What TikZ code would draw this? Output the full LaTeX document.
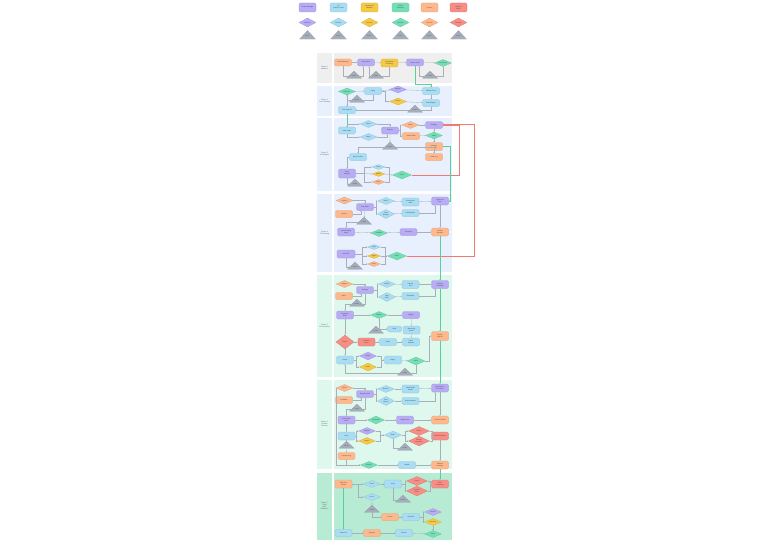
\documentclass[tikz,border=0pt]{standalone}
\usepackage{fontspec}
\setmainfont{Liberation Sans}
\usetikzlibrary{shapes.geometric,arrows.meta}

\definecolor{pmcol}{HTML}{B8ADF5}
\definecolor{aicol}{HTML}{A8DDF3}
\definecolor{qacol}{HTML}{F6C945}
\definecolor{devcol}{HTML}{74DFB5}
\definecolor{vencol}{HTML}{FFB88C}
\definecolor{extcol}{HTML}{F78D85}
\definecolor{revcol}{HTML}{A6ADBA}
\definecolor{lanegray}{HTML}{EFEFEF}
\definecolor{laneblue}{HTML}{E7F0FC}
\definecolor{lanemint}{HTML}{DFF8EE}
\definecolor{lanedeep}{HTML}{B8EBD4}
\definecolor{ink}{HTML}{3A3F4A}
\definecolor{wire}{HTML}{A9AFB8}
\definecolor{flowgreen}{HTML}{5BCF98}
\definecolor{failred}{HTML}{EE7A72}

\begin{document}
\begin{tikzpicture}[x=1pt, y=-1pt,
        >={Stealth[length=1.3pt, width=1.1pt]},
        every node/.style={font=\fontsize{1.6}{1.9}\selectfont, text=ink, align=center},
        task/.style={rectangle, rounded corners=1.3pt, line width=0.2pt, minimum width=17pt, minimum height=7pt, inner sep=0.3pt},
        task_pm/.style={task, fill=pmcol, draw=pmcol!85!black},
        task_ai/.style={task, fill=aicol, draw=aicol!85!black},
        task_qa/.style={task, fill=qacol, draw=qacol!85!black},
        task_dev/.style={task, fill=devcol, draw=devcol!85!black},
        task_ven/.style={task, fill=vencol, draw=vencol!85!black},
        task_ext/.style={task, fill=extcol, draw=extcol!85!black},
        dec/.style={diamond, aspect=2.5, line width=0.2pt, minimum width=17pt, minimum height=7pt, inner sep=0.2pt},
        dec_pm/.style={dec, fill=pmcol, draw=pmcol!85!black},
        dec_ai/.style={dec, fill=aicol, draw=aicol!85!black},
        dec_qa/.style={dec, fill=qacol, draw=qacol!85!black},
        dec_dev/.style={dec, fill=devcol, draw=devcol!85!black},
        dec_ven/.style={dec, fill=vencol, draw=vencol!85!black},
        dec_ext/.style={dec, fill=extcol, draw=extcol!85!black},
        small/.style={minimum width=13pt, minimum height=5pt},
        review/.style={isosceles triangle, isosceles triangle stretches, shape border rotate=90, minimum width=15pt, minimum height=7pt, inner sep=0pt, fill=revcol, draw=revcol!85!black, line width=0.2pt, font=\fontsize{1.3}{1.5}\selectfont},
        legend_item/.style={minimum width=17pt, minimum height=9pt},
        link/.style={draw=wire, line width=0.3pt},
        flow/.style={draw=flowgreen, line width=0.8pt, ->},
        fail/.style={draw=failred, line width=0.7pt, ->},
        lane_label/.style={font=\fontsize{1.8}{2.2}\selectfont, text=ink!80}
    ]
        \useasboundingbox (0,0) rectangle (768,543);

        % Legend
        \node[task_pm, legend_item] (leg_pm) at (307.5,7.5) {Project Manager};
        \node[task_ai, legend_item] (leg_ai) at (338.5,7.5) {AI /\\Analysis Tools};
        \node[task_qa, legend_item] (leg_qa) at (369.5,7.5) {Compliance\\Manager};
        \node[task_dev, legend_item] (leg_dev) at (400.5,7.5) {Senior\\Developer};
        \node[task_ven, legend_item] (leg_ven) at (429.5,7.5) {Vendor};
        \node[task_ext, legend_item] (leg_ext) at (458.5,7.5) {External\\Client};
        \node[dec_pm, legend_item] (leg_dec1) at (307.5,22.5) {Decision};
        \node[dec_ai, legend_item] (leg_dec2) at (338.5,22.5) {Decision};
        \node[dec_qa, legend_item] (leg_dec3) at (369.5,22.5) {Decision};
        \node[dec_dev, legend_item] (leg_dec4) at (400.5,22.5) {Decision};
        \node[dec_ven, legend_item] (leg_dec5) at (429.5,22.5) {Decision};
        \node[dec_ext, legend_item] (leg_dec6) at (458.5,22.5) {Decision};
        \node[review, minimum width=16pt, minimum height=8.5pt] (leg_rev1) at (307.5,36.5) {Review};
        \node[review, minimum width=16pt, minimum height=8.5pt] (leg_rev2) at (338.5,36.5) {Review};
        \node[review, minimum width=16pt, minimum height=8.5pt] (leg_rev3) at (369.5,36.5) {Review};
        \node[review, minimum width=16pt, minimum height=8.5pt] (leg_rev4) at (400.5,36.5) {Review};
        \node[review, minimum width=16pt, minimum height=8.5pt] (leg_rev5) at (429.5,36.5) {Review};
        \node[review, minimum width=16pt, minimum height=8.5pt] (leg_rev6) at (458.5,36.5) {Review};

        % Lanes
        \fill[lanegray] (317,53) rectangle (332,83);   \fill[lanegray] (334,53) rectangle (452,83);
        \fill[laneblue] (317,86) rectangle (332,116);  \fill[laneblue] (334,86) rectangle (452,116);
        \fill[laneblue] (317,118) rectangle (332,191); \fill[laneblue] (334,118) rectangle (452,191);
        \fill[laneblue] (317,194) rectangle (332,272); \fill[laneblue] (334,194) rectangle (452,272);
        \fill[lanemint] (317,275) rectangle (332,377); \fill[lanemint] (334,275) rectangle (452,377);
        \fill[lanemint] (317,380) rectangle (332,469); \fill[lanemint] (334,380) rectangle (452,469);
        \fill[lanedeep] (317,473) rectangle (332,540); \fill[lanedeep] (334,473) rectangle (452,540);
        \node[lane_label] (lane1_label) at (324.5,68) {Phase 1\\Initiation};
        \node[lane_label] (lane2_label) at (324.5,101) {Phase 2\\Tool Planning};
        \node[lane_label] (lane3_label) at (324.5,154) {Phase 3\\AI Analysis};
        \node[lane_label] (lane4_label) at (324.5,233) {Phase 4\\AI Planning};
        \node[lane_label] (lane5_label) at (324.5,326) {Phase 5\\AI Execution};
        \node[lane_label] (lane6_label) at (324.5,424) {Phase 6\\Review\\Process};
        \node[lane_label] (lane7_label) at (324.5,506) {Phase 7\\Final\\Gate\\Validation};

        % Phase 1: kickoff to charter
        \node[task_ven] (p1_kickoff) at (343,62.5) {Kickoff Meeting};
        \node[task_pm] (p1_scope) at (366,62.5) {Scope Brief};
        \node[task_qa, minimum height=8pt] (p1_comp) at (389.5,63) {Compliance\\Screening};
        \node[task_pm] (p1_charter) at (415,62.5) {Charter Draft};
        \node[dec_dev] (p1_go) at (443,63) {Go / No-Go};
        \node[review] (p1_rev1) at (354,76) {Review};
        \node[review] (p1_rev2) at (376,76) {Review};
        \node[review] (p1_rev3) at (430,76) {Review};
        \draw[link, ->] (p1_kickoff) -- (p1_scope);
        \draw[link, ->] (p1_scope) -- (p1_comp);
        \draw[link, ->] (p1_comp) -- (p1_charter);
        \draw[link, ->] (p1_charter) -- (p1_go);
        \draw[link] (p1_kickoff) |- (p1_rev1);
        \draw[link, ->] (p1_rev1) -| ([xshift=-3pt]p1_scope.south);
        \draw[link] (p1_comp) |- (p1_rev2);
        \draw[link, ->] (p1_rev2) -| ([xshift=3pt]p1_scope.south);
        \draw[link] (p1_go) |- (p1_rev3);
        \draw[link, ->] (p1_rev3) -| ([xshift=4pt]p1_charter.south);

        % Phase 2: tool planning
        \node[dec_dev] (p2_ok) at (347,91.5) {Tools OK?};
        \node[task_ai] (p2_setup) at (373,91) {Setup};
        \node[dec_pm] (p2_budget) at (398,89.5) {Budget?};
        \node[dec_qa] (p2_policy) at (398,101.5) {Policy?};
        \node[task_ai] (p2_val) at (431,91) {Validate Tools};
        \node[task_ai] (p2_risk) at (431,103) {Risk Register};
        \node[review] (p2_rev1) at (357,100) {Review};
        \node[review] (p2_rev2) at (415,110) {Review};
        \node[task_ai] (p2_plan) at (347,110) {Plan Sign-off};
        \draw[flow] (p1_charter.south) -- (415,84) -| (p2_val.north);
        \draw[link, ->] (p2_ok) -- (p2_setup);
        \draw[link, ->] (p2_setup) -- (p2_budget);
        \draw[link, ->] (p2_setup.east) -- (385,91) |- (p2_policy.west);
        \draw[link, ->] (p2_budget) -- (p2_val);
        \draw[link, ->] (p2_policy) -- (p2_risk);
        \draw[link, ->] (p2_val) -- (p2_risk);
        \draw[link] (p2_setup) |- (p2_rev1);
        \draw[link, ->] (p2_rev1) -| (p2_ok);
        \draw[link, ->] (p2_ok) -- (p2_plan);
        \draw[link] (p2_risk) |- (p2_rev2);
        \draw[link, ->] (p2_rev2) -- (p2_plan);

        % Phase 3: analysis
        \node[task_ai] (p3_intake) at (347,130.5) {Data Intake};
        \node[dec_ai] (p3_clean) at (368.5,124) {Clean?};
        \node[dec_ai] (p3_gaps) at (368.5,137) {Gaps?};
        \node[task_pm] (p3_model) at (390,130.5) {Analysis};
        \node[dec_ven] (p3_input) at (410.5,125) {Input?};
        \node[task_ven] (p3_vendor) at (411,136) {Vendor Data};
        \node[task_pm] (p3_report) at (434,125) {Findings};
        \node[dec_dev] (p3_valid) at (434,135.5) {Valid?};
        \node[task_ven, minimum height=8pt] (p3_pack) at (434,146.5) {Package\\Results};
        \node[review] (p3_rev1) at (390,147) {Review};
        \node[task_ai] (p3_notes) at (358,157) {Notes Archive};
        \node[task_ven] (p3_log) at (434,157) {Issue Log};
        \node[task_pm, minimum height=9pt] (p3_deep) at (347,173.5) {Deep\\Analysis};
        \node[dec_ai, small] (p3_bias) at (378.5,167) {Bias?};
        \node[dec_qa, small] (p3_audit) at (378.5,174) {Audit?};
        \node[dec_ven, small] (p3_cost) at (378.5,182) {Cost?};
        \node[dec_dev, minimum width=19pt, minimum height=8pt] (p3_pass) at (402,175) {Pass?};
        \node[review] (p3_rev2) at (355,184) {Review};
        \draw[flow] (p2_plan) -- (p3_intake);
        \draw[link, ->] (p3_intake.north) |- (p3_clean.west);
        \draw[link, ->] (p3_intake.south) |- (p3_gaps.west);
        \draw[link, ->] (p3_clean.east) -| (p3_model.north);
        \draw[link, ->] (p3_gaps.east) -| ([xshift=-3pt]p3_model.south);
        \draw[link, ->] (p3_model.east) -- (400,130.5) |- (p3_input.west);
        \draw[link, ->] (400,130.5) |- (p3_vendor.west);
        \draw[link, ->] (p3_input) -- (p3_report);
        \draw[link, ->] (p3_report) -- (p3_valid);
        \draw[link, ->] (p3_vendor) -- (p3_valid);
        \draw[link, ->] (p3_valid) -- (p3_pack);
        \draw[link, ->] (p3_model) -- (p3_rev1);
        \draw[link, ->] (p3_rev1) -| (p3_notes.north);
        \draw[link, ->] (p3_rev1) -| (p3_log.north);
        \draw[link, ->] (p3_notes.west) -| (p3_deep.north);
        \draw[link, ->] (p3_deep.east) -- (364,173.5) |- (p3_bias.west);
        \draw[link, ->] (364,173.5) -- (p3_audit.west);
        \draw[link, ->] (364,173.5) |- (p3_cost.west);
        \draw[link] (p3_bias.east) -| (389,175);
        \draw[link] (p3_cost.east) -| (389,175);
        \draw[link, ->] (p3_audit.east) -- (p3_pass.west);
        \draw[link, ->] (p3_deep.south) |- (p3_rev2.west);
        \draw[fail] (p3_pass.east) -- (459,175) |- (p3_report.east);

        % Phase 4: planning
        \node[dec_ven] (p4_vendor) at (344.5,200.5) {Vendor?};
        \node[task_ven] (p4_quote) at (344,214) {Quotes};
        \node[task_pm] (p4_plan) at (365,207) {Plan Build};
        \node[dec_ai] (p4_scale) at (386,201) {Scale?};
        \node[dec_ai, minimum height=9pt] (p4_ready) at (386,214) {Data\\Ready?};
        \node[task_ai, minimum height=8pt] (p4_arch) at (410.5,202) {Architecture\\Draft};
        \node[task_ai] (p4_data) at (410.5,213) {Data Pipeline};
        \node[task_pm, minimum height=8pt] (p4_gate) at (440,201) {Approved\\Plan};
        \node[review] (p4_rev1) at (364,222) {Review};
        \node[task_pm, minimum height=8pt] (p4_sprint) at (346,232) {Sprint Backlog\\Setup};
        \node[dec_dev] (p4_feasible) at (379,233) {Feasible?};
        \node[task_pm] (p4_build) at (408.5,232) {Prototype};
        \node[task_ven, minimum height=8pt] (p4_handoff) at (440,232) {Vendor\\Handoff};
        \node[task_pm, minimum width=18pt, minimum height=8pt] (p4_test) at (346,254) {Pilot Test};
        \node[dec_ai, small] (p4_load) at (374,247) {Load?};
        \node[dec_qa, small] (p4_legal) at (374,256) {Legal?};
        \node[dec_ven, small] (p4_price) at (374,264) {Price?};
        \node[dec_dev, minimum width=19pt, minimum height=8pt] (p4_pass) at (397,256) {Pass?};
        \node[review] (p4_rev2) at (355,267) {Review};
        \draw[flow] (p3_pack.east) -- (450,146.5) |- (p4_gate.east);
        \draw[link, ->] (p4_vendor.east) -| (p4_plan.north);
        \draw[link, ->] (p4_quote.east) -| ([xshift=-4pt]p4_plan.south);
        \draw[link, ->] (p4_plan.east) -- (376,207) |- (p4_scale.west);
        \draw[link, ->] (376,207) |- (p4_ready.west);
        \draw[link, ->] (p4_scale) -- (p4_arch);
        \draw[link, ->] (p4_ready) -- (p4_data);
        \draw[link, ->] (p4_arch) -- (p4_gate);
        \draw[link, ->] (p4_data.east) -| ([xshift=-5pt]p4_gate.south);
        \draw[link, ->] (p4_gate) -- (p4_handoff);
        \draw[link, ->] (p4_plan) -- (p4_rev1);
        \draw[link, ->] (p4_rev1.west) -| (p4_sprint.north);
        \draw[link, ->] (p4_sprint) -- (p4_feasible);
        \draw[link, ->] (p4_feasible) -- (p4_build);
        \draw[link, ->] (p4_build) -- (p4_handoff);
        \draw[link, ->] (p4_test.east) -- (362,254) |- (p4_load.west);
        \draw[link, ->] (362,254) |- (p4_legal.west);
        \draw[link, ->] (362,254) |- (p4_price.west);
        \draw[link] (p4_load.east) -| (385,256);
        \draw[link] (p4_price.east) -| (385,256);
        \draw[link, ->] (p4_legal.east) -- (p4_pass.west);
        \draw[link, ->] (p4_test.south) |- (p4_rev2.west);
        \draw[fail] (p4_pass.east) -- (474,256) |- ([yshift=1pt]p3_report.east);

        % Phase 5: execution
        \node[dec_ven] (p5_vendor) at (344.5,284) {Vendor?};
        \node[task_ven] (p5_spec) at (344,296) {Specs};
        \node[task_pm] (p5_dev) at (365,290) {Develop};
        \node[dec_ai] (p5_model) at (387,284) {Model?};
        \node[dec_ai, minimum height=9pt] (p5_drift) at (387,297) {Data\\Drift?};
        \node[task_ai, minimum height=8pt] (p5_train) at (410.5,284.5) {Training\\Run};
        \node[task_ai] (p5_eval) at (410.5,296) {Evaluation};
        \node[task_pm, minimum height=8pt] (p5_gate) at (440,284.5) {Release\\Candidate};
        \node[review] (p5_rev1) at (357,304) {Review};
        \node[task_pm, minimum height=8pt] (p5_int) at (345,315) {Integration\\Build};
        \node[dec_dev] (p5_stable) at (379,315) {Stable?};
        \node[task_pm] (p5_stage) at (411,315) {Staging};
        \node[review] (p5_rev2) at (376,331) {Review};
        \node[task_ai, minimum width=14pt, minimum height=6pt] (p5_bind) at (394.5,329) {Bind};
        \node[task_ai, minimum height=8pt] (p5_hooks) at (411.5,330) {Monitoring\\Hooks};
        \node[task_ven, minimum height=9pt] (p5_signoff) at (440,336) {Vendor\\Sign-off};
        \node[dec_ext, minimum width=18pt, minimum height=14pt] (p5_block) at (345,342) {Block?};
        \node[task_ext, minimum height=8pt] (p5_escalate) at (366.5,342) {Escalate\\Issue};
        \node[task_ai] (p5_fix) at (388,342) {Hotfix};
        \node[task_ai, minimum height=8pt] (p5_patch) at (411,342) {Patch\\Release};
        \node[task_ai, minimum height=8pt] (p5_retest) at (345,360) {Retest};
        \node[dec_pm, minimum height=8pt] (p5_scope) at (368,356) {Scope?};
        \node[dec_qa, minimum height=8pt] (p5_audit) at (368,367) {Audit?};
        \node[task_ai, minimum height=8pt] (p5_merge) at (393,360) {Merge};
        \node[dec_dev, minimum width=18pt, minimum height=8pt] (p5_pass) at (416,361) {Pass?};
        \node[review] (p5_rev3) at (405,373) {Review};
        \draw[flow] (p4_handoff) -- (p5_gate);
        \draw[link, ->] (p5_vendor.east) -| (p5_dev.north);
        \draw[link, ->] (p5_spec.east) -| ([xshift=-4pt]p5_dev.south);
        \draw[link, ->] (p5_dev.east) -- (377,290) |- (p5_model.west);
        \draw[link, ->] (377,290) |- (p5_drift.west);
        \draw[link, ->] (p5_model) -- (p5_train);
        \draw[link, ->] (p5_drift) -- (p5_eval);
        \draw[link, ->] (p5_train) -- (p5_gate);
        \draw[link, ->] (p5_eval.east) -| ([xshift=-5pt]p5_gate.south);
        \draw[link] (p5_dev.south) |- (p5_rev1.east);
        \draw[link, ->] (p5_rev1.west) -| (p5_int.north);
        \draw[link, ->] (p5_int) -- (p5_stable);
        \draw[link, ->] (p5_stable) -- (p5_stage);
        \draw[link, ->] (p5_stable.south) |- (p5_bind.west);
        \draw[link, ->] (p5_stage) -- (p5_hooks);
        \draw[link, ->] (p5_hooks) -- (p5_patch);
        \draw[link, ->] (p5_int) -- (p5_block);
        \draw[link, ->] (p5_block) -- (p5_escalate);
        \draw[link, ->] (p5_escalate) -- (p5_fix);
        \draw[link, ->] (p5_fix) -- (p5_patch);
        \draw[link, ->] (p5_block) -- (p5_retest);
        \draw[link, ->] (p5_retest.east) -- (356,360) |- (p5_scope.west);
        \draw[link, ->] (356,360) |- (p5_audit.west);
        \draw[link] (p5_scope.east) -| (381,360);
        \draw[link] (p5_audit.east) -| (381,360);
        \draw[link, ->] (381,360) -- (p5_merge.west);
        \draw[link, ->] (p5_merge) -- (p5_pass);
        \draw[link] (p5_pass.south) |- (p5_rev3.east);
        \draw[link, ->] (p5_rev3.west) -| (p5_retest.south);
        \draw[link, ->] (p5_pass.east) -- (429,361) |- (p5_signoff.west);
        \draw[flow] (p5_gate) -- (p5_signoff);

        % Phase 6: review
        \node[dec_ven] (p6_client) at (344.5,388) {Client?};
        \node[task_ven] (p6_feedback) at (344,400) {Feedback};
        \node[task_pm] (p6_board) at (365,394) {Review Board};
        \node[dec_ai] (p6_metrics) at (386,389) {Metrics?};
        \node[dec_ai, minimum height=9pt] (p6_bias) at (386,401) {Bias\\Check?};
        \node[task_ai, minimum height=8pt] (p6_audit) at (410.5,389) {Model Audit\\Report};
        \node[task_ai] (p6_doc) at (410.5,401) {Documentation};
        \node[task_pm, minimum height=8pt] (p6_gate) at (440,388) {Approved for\\Final Gate};
        \node[review] (p6_rev1) at (357,409) {Review};
        \node[task_pm, minimum height=8pt] (p6_demo) at (346.5,420) {Stakeholder\\Demo};
        \node[dec_dev, minimum height=8pt] (p6_accept) at (376,420) {Accepted?};
        \node[task_pm, minimum height=8pt] (p6_update) at (405,420) {Update Plan};
        \node[task_ven, minimum height=8pt] (p6_contract) at (440,420) {Contract Check};
        \node[task_ai, minimum height=8pt] (p6_retro) at (346.5,436) {Retro};
        \node[dec_pm] (p6_budget) at (367,431) {Budget?};
        \node[dec_qa] (p6_legal) at (367,441) {Legal?};
        \node[dec_ai, minimum height=8pt] (p6_risk) at (393,435) {Risk?};
        \node[dec_ext, minimum width=21pt, minimum height=9pt] (p6_change) at (419,431) {Client?};
        \node[dec_ext, minimum width=21pt, minimum height=10pt] (p6_request) at (419,441) {Change\\Request?};
        \node[task_ext, minimum height=8pt] (p6_escalate) at (440,436) {Client Escalation};
        \node[review] (p6_rev2) at (346.5,446) {Review};
        \node[review] (p6_rev3) at (405,448) {Review};
        \node[task_ven] (p6_lessons) at (346.5,456) {Lessons Log};
        \node[dec_dev] (p6_ready) at (369,465) {Ready?};
        \node[task_ai] (p6_bundle) at (407,465) {Bundle};
        \node[task_ven, minimum height=8pt] (p6_release) at (440,465) {Release\\Package};
        \draw[flow] (p5_signoff) -- (p6_gate);
        \draw[link, ->] (p6_client.east) -| (p6_board.north);
        \draw[link, ->] (p6_feedback.east) -| ([xshift=-4pt]p6_board.south);
        \draw[link, ->] (p6_board.east) -- (376,394) |- (p6_metrics.west);
        \draw[link, ->] (376,394) |- (p6_bias.west);
        \draw[link, ->] (p6_metrics) -- (p6_audit);
        \draw[link, ->] (p6_bias) -- (p6_doc);
        \draw[link, ->] (p6_audit) -- (p6_gate);
        \draw[link, ->] (p6_doc.east) -| ([xshift=-5pt]p6_gate.south);
        \draw[link, ->] (p6_gate) -- (p6_contract);
        \draw[link] (p6_board.south) |- (p6_rev1.east);
        \draw[link, ->] (p6_rev1.west) -| (p6_demo.north);
        \draw[link, ->] (p6_demo) -- (p6_accept);
        \draw[link, ->] (p6_accept) -- (p6_update);
        \draw[link, ->] (p6_update) -- (p6_contract);
        \draw[link, ->] (p6_demo) -- (p6_retro);
        \draw[link, ->] (p6_retro.east) -- (356,436) |- (p6_budget.west);
        \draw[link, ->] (356,436) |- (p6_legal.west);
        \draw[link] (p6_budget.east) -| (380,435);
        \draw[link] (p6_legal.east) -| (380,435);
        \draw[link, ->] (380,435) -- (p6_risk.west);
        \draw[link, ->] (p6_risk.east) -- (405,435) |- (p6_change.west);
        \draw[link, ->] (405,435) |- (p6_request.west);
        \draw[link] (p6_change.east) -| (432,436);
        \draw[link] (p6_request.east) -| (432,436);
        \draw[link, ->] (432,436) -- (p6_escalate.west);
        \draw[link] (p6_risk.south) |- (p6_rev3.west);
        \draw[link, ->] (p6_retro) -- (p6_rev2);
        \draw[link, ->] (p6_rev2) -- (p6_lessons);
        \draw[link, ->] (p6_lessons.south) |- (p6_ready.west);
        \draw[link, ->] (p6_client.west) -- (336,388) |- (p6_ready.west);
        \draw[link, ->] (p6_ready) -- (p6_bundle);
        \draw[link, ->] (p6_bundle) -- (p6_release);
        \draw[link, ->] (p6_escalate) -- (p6_release);

        % Phase 7: final gate
        \node[task_ven, minimum height=8pt] (p7_final) at (343.5,484) {Final Gate\\Review};
        \node[dec_ai] (p7_tests) at (372,484) {Tests?};
        \node[dec_ai] (p7_docs) at (372,497) {Docs?};
        \node[task_ai, minimum height=8pt] (p7_verify) at (393,484) {Verify};
        \node[dec_ext, minimum width=21pt, minimum height=9pt] (p7_client) at (417,481) {Client?};
        \node[dec_ext, minimum width=21pt, minimum height=10pt] (p7_contract) at (417,491) {Contract\\Met?};
        \node[task_ext, minimum height=8pt] (p7_accept) at (440,484) {Client\\Acceptance};
        \node[review] (p7_rev1) at (403,500) {Review};
        \node[review] (p7_rev2) at (372,510) {Review};
        \node[task_ven] (p7_invoice) at (390,517) {Invoice};
        \node[task_ai] (p7_handover) at (411,517) {Handover};
        \node[dec_pm] (p7_closed) at (433,512) {Closed?};
        \node[dec_qa] (p7_archived) at (433,522) {Archived?};
        \node[task_ai] (p7_close) at (343.5,533) {Close Out};
        \node[task_ven] (p7_pay) at (372,533) {Payment};
        \node[task_ai] (p7_archive) at (404,533) {Archive};
        \node[dec_dev] (p7_done) at (433,534) {Done};
        \draw[flow] (p6_release) -- (p7_accept);
        \draw[link, ->] (p7_final) -- (p7_tests);
        \draw[link, ->] (p7_final.east) -- (358,484) |- (p7_docs.west);
        \draw[link, ->] (p7_tests) -- (p7_verify);
        \draw[link, ->] (p7_verify.east) -- (405,484) |- (p7_client.west);
        \draw[link, ->] (405,484) |- (p7_contract.west);
        \draw[link] (p7_client.east) -| (430,484);
        \draw[link] (p7_contract.east) -| (430,484);
        \draw[link, ->] (430,484) -- (p7_accept.west);
        \draw[link] (p7_verify.south) |- (p7_rev1.west);
        \draw[link, ->] (p7_docs) -- (p7_rev2);
        \draw[link, ->] (p7_rev2.south) |- (p7_invoice.west);
        \draw[link, ->] (p7_invoice) -- (p7_handover);
        \draw[link, ->] (p7_handover.east) -- (423,517) |- (p7_closed.west);
        \draw[link, ->] (423,517) |- (p7_archived.west);
        \draw[link, ->] (p7_archived) -- (p7_done);
        \draw[flow] (p7_final) -- (p7_close);
        \draw[link, ->] (p7_close) -- (p7_pay);
        \draw[link, ->] (p7_pay) -- (p7_archive);
        \draw[link, ->] (p7_archive) -- (p7_done);

    \end{tikzpicture}
\end{document}
